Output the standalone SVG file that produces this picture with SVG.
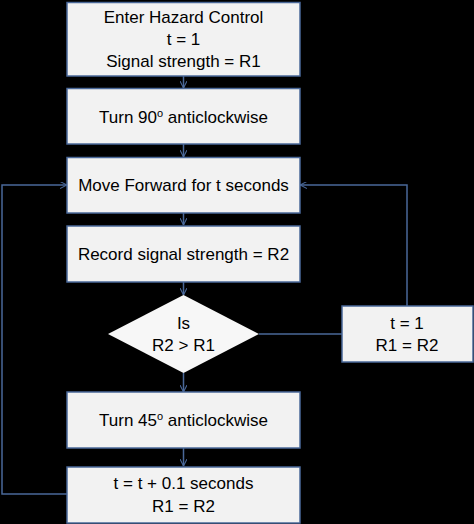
<svg xmlns="http://www.w3.org/2000/svg" width="474" height="524" viewBox="0 0 474 524">
<defs>
<style>
.box{fill:#f2f2f2;stroke:#4a6899;stroke-width:1.5}
.dia{fill:#f7f7f7;stroke:none}
.t{font-family:"Liberation Sans",Arial,sans-serif;font-size:17px;fill:#000;text-anchor:middle}
.sup{font-size:11px}
.c{fill:none;stroke:#4a6899;stroke-width:1.5}
</style>
<marker id="arr" viewBox="0 0 10 10" refX="10" refY="5" markerWidth="7" markerHeight="7" orient="auto" markerUnits="userSpaceOnUse">
<path d="M0,0 L10,5 L0,10" fill="none" stroke="#4a6899" stroke-width="1.5"/>
</marker>
</defs>
<rect width="474" height="524" fill="#000"/>
<g id="connectors">
<line class="c" x1="183.5" y1="76" x2="183.5" y2="88" marker-end="url(#arr)"/>
<line class="c" x1="183.5" y1="144" x2="183.5" y2="157" marker-end="url(#arr)"/>
<line class="c" x1="183.5" y1="213" x2="183.5" y2="225" marker-end="url(#arr)"/>
<line class="c" x1="183.5" y1="282" x2="183.5" y2="295" marker-end="url(#arr)"/>
<line class="c" x1="183.5" y1="373" x2="183.5" y2="392" marker-end="url(#arr)"/>
<line class="c" x1="183.5" y1="448" x2="183.5" y2="466" marker-end="url(#arr)"/>
<line class="c" x1="259" y1="334" x2="342" y2="334"/>
<polyline class="c" points="67,494 2,494 2,185 67,185" marker-end="url(#arr)"/>
<polyline class="c" points="407,306 407,185 300,185" marker-end="url(#arr)"/>
</g>
<g id="n1">
<rect class="box" x="67" y="2.5" width="233" height="73.5"/>
<text class="t" x="183.5" y="23">Enter Hazard Control</text>
<text class="t" x="183.5" y="45">t = 1</text>
<text class="t" x="183.5" y="67">Signal strength = R1</text>
</g>
<g id="n2">
<rect class="box" x="67" y="88.5" width="233" height="55.5"/>
<text class="t" x="183.5" y="123">Turn 90<tspan class="sup" dy="-6">o</tspan><tspan dy="6"> anticlockwise</tspan></text>
</g>
<g id="n3">
<rect class="box" x="67" y="157.5" width="233" height="55.5"/>
<text class="t" x="183.5" y="191">Move Forward for t seconds</text>
</g>
<g id="n4">
<rect class="box" x="67" y="226" width="233" height="56"/>
<text class="t" x="183.5" y="260">Record signal strength = R2</text>
</g>
<g id="n5">
<polygon class="dia" points="183.5,295 259,334 183.5,373 108,334"/>
<text class="t" x="183.5" y="329">Is</text>
<text class="t" x="183.5" y="351">R2 &gt; R1</text>
</g>
<g id="n6">
<rect class="box" x="342" y="306" width="131" height="56"/>
<text class="t" x="407" y="329">t = 1</text>
<text class="t" x="407" y="351">R1 = R2</text>
</g>
<g id="n7">
<rect class="box" x="67" y="392" width="233" height="56"/>
<text class="t" x="183.5" y="426">Turn 45<tspan class="sup" dy="-6">o</tspan><tspan dy="6"> anticlockwise</tspan></text>
</g>
<g id="n8">
<rect class="box" x="67" y="467" width="233" height="56"/>
<text class="t" x="183.5" y="489">t = t + 0.1 seconds</text>
<text class="t" x="183.5" y="512">R1 = R2</text>
</g>
</svg>
